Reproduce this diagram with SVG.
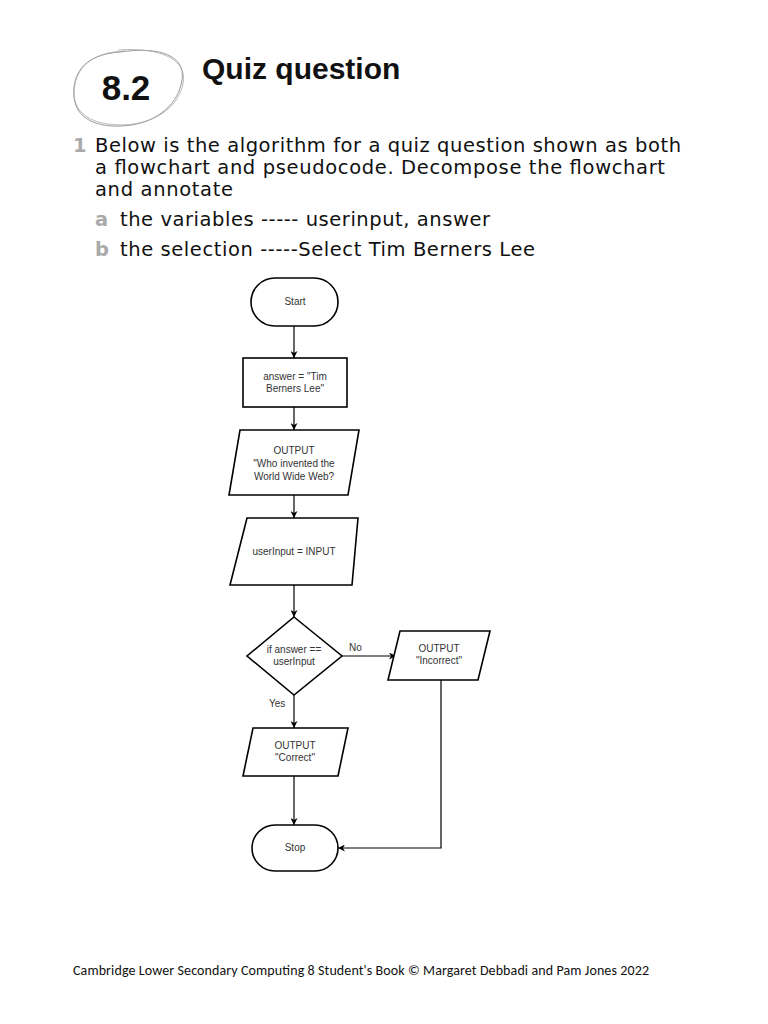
<svg xmlns="http://www.w3.org/2000/svg" width="768" height="1024" viewBox="0 0 768 1024">
<defs>
<marker id="ah" viewBox="0 0 10 10" refX="10" refY="5" markerWidth="7" markerHeight="7" orient="auto" markerUnits="userSpaceOnUse">
<path d="M0,0 L10,5 L0,10 L3,5 Z" fill="#000"/>
</marker>
</defs>
<style>
.shape{fill:#fff;stroke:#000;stroke-width:1.6}
.lbl{font-family:"Liberation Sans",Arial,sans-serif;font-size:10px;fill:#333;text-anchor:middle}
.conn{fill:none;stroke:#000;stroke-width:1.2}
.body{font-family:"DejaVu Sans",Verdana,sans-serif;font-size:19.5px;fill:#111}
.num{font-family:"DejaVu Sans",Verdana,sans-serif;font-size:19.5px;fill:#aaa;font-weight:bold}
</style>
<rect width="768" height="1024" fill="#fff"/>
<g id="header">
<path d="M120,52 C160,46 186,56 182,80 C178,108 150,128 112,126 C82,124 72,108 74,88 C76,66 92,54 120,52 Z" fill="none" stroke="#999" stroke-width="1"/>
<path d="M118,50 C162,47 188,60 183,84 C177,112 146,129 108,124 C80,120 71,104 75,84 C79,64 96,52 125,51" fill="none" stroke="#aaa" stroke-width="0.8"/>
<text x="126" y="100" font-family="Liberation Sans,Arial,sans-serif" font-size="35" font-weight="bold" text-anchor="middle" fill="#111">8.2</text>
<text x="202" y="79" font-family="Liberation Sans,Arial,sans-serif" font-size="30" font-weight="bold" fill="#111">Quiz question</text>
</g>
<g id="question">
<text x="73" y="152" class="num">1</text>
<text x="95" y="152" class="body" textLength="586" lengthAdjust="spacing">Below is the algorithm for a quiz question shown as both</text>
<text x="95" y="174" class="body" textLength="570" lengthAdjust="spacing">a flowchart and pseudocode. Decompose the flowchart</text>
<text x="95" y="196" class="body" textLength="138" lengthAdjust="spacing">and annotate</text>
<text x="95" y="226" class="num">a</text>
<text x="120" y="226" class="body" textLength="370" lengthAdjust="spacing">the variables ----- userinput, answer</text>
<text x="95" y="256" class="num">b</text>
<text x="120" y="256" class="body" textLength="415" lengthAdjust="spacing">the selection -----Select Tim Berners Lee</text>
</g>
<g id="connectors">
<line class="conn" x1="294" y1="326" x2="294" y2="358" marker-end="url(#ah)"/>
<line class="conn" x1="294" y1="407" x2="294" y2="430" marker-end="url(#ah)"/>
<line class="conn" x1="294" y1="495" x2="294" y2="518" marker-end="url(#ah)"/>
<line class="conn" x1="294" y1="585" x2="294" y2="617" marker-end="url(#ah)"/>
<line class="conn" x1="342" y1="656" x2="396" y2="656" marker-end="url(#ah)"/>
<line class="conn" x1="294" y1="695" x2="294" y2="728" marker-end="url(#ah)"/>
<line class="conn" x1="294" y1="776" x2="294" y2="825" marker-end="url(#ah)"/>
<polyline class="conn" points="441,680 441,848 338,848" marker-end="url(#ah)"/>
<text x="349" y="651" class="lbl" style="text-anchor:start">No</text>
<text x="269" y="707" class="lbl" style="text-anchor:start">Yes</text>
</g>
<g id="start">
<rect class="shape" x="251" y="278" width="87" height="48" rx="24" ry="24"/>
<text x="295" y="305" class="lbl">Start</text>
</g>
<g id="assign">
<rect class="shape" x="243" y="358" width="104" height="49"/>
<text x="295" y="380" class="lbl">answer = "Tim</text>
<text x="295" y="392" class="lbl">Berners Lee"</text>
</g>
<g id="output-question">
<polygon class="shape" points="240,430 359,430 348,495 229,495"/>
<text x="294" y="454" class="lbl">OUTPUT</text>
<text x="294" y="467" class="lbl">"Who invented the</text>
<text x="294" y="480" class="lbl">World Wide Web?</text>
</g>
<g id="input">
<polygon class="shape" points="247,518 358,518 352,585 230,585"/>
<text x="294" y="555" class="lbl">userInput = INPUT</text>
</g>
<g id="decision">
<polygon class="shape" points="294,617 342,656 294,695 247,656"/>
<text x="294" y="653" class="lbl">if answer ==</text>
<text x="294" y="665" class="lbl">userInput</text>
</g>
<g id="output-incorrect">
<polygon class="shape" points="400,631 490,631 478,680 388,680"/>
<text x="439" y="652" class="lbl">OUTPUT</text>
<text x="439" y="664" class="lbl">"Incorrect"</text>
</g>
<g id="output-correct">
<polygon class="shape" points="253,728 348,728 338,776 243,776"/>
<text x="295" y="749" class="lbl">OUTPUT</text>
<text x="295" y="761" class="lbl">"Correct"</text>
</g>
<g id="stop">
<rect class="shape" x="252" y="825" width="86" height="46" rx="23" ry="23"/>
<text x="295" y="851" class="lbl">Stop</text>
</g>
<text x="73" y="975" font-family="Carlito,'Liberation Sans',Arial,sans-serif" font-size="14" fill="#111" textLength="576" lengthAdjust="spacing">Cambridge Lower Secondary Computing 8 Student's Book © Margaret Debbadi and Pam Jones 2022</text>
</svg>
